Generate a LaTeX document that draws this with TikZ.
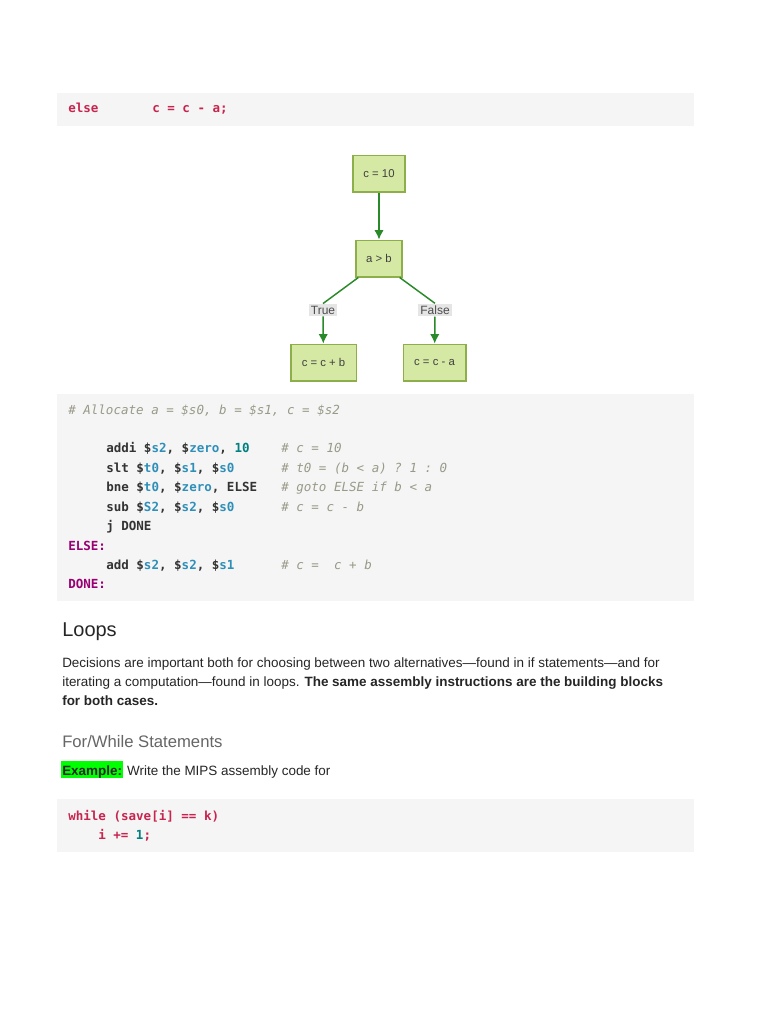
\documentclass[tikz,border=0pt]{standalone}
\usepackage{fontspec}
\setmainfont{Liberation Sans}
\setmonofont{DejaVu Sans Mono}
\usetikzlibrary{arrows.meta}
\definecolor{kw}{HTML}{C7254E}
\definecolor{cbg}{HTML}{F5F5F5}
\definecolor{cm}{HTML}{999988}
\definecolor{rg}{HTML}{2F8FB8}
\definecolor{nm}{HTML}{008080}
\definecolor{lb}{HTML}{990073}
\definecolor{bfill}{HTML}{D5E8A4}
\definecolor{bdraw}{HTML}{8CAF4A}
\definecolor{arr}{HTML}{2A8A2A}
\tikzset{
 box/.style={draw=bdraw,fill=bfill,line width=1pt,minimum height=27.5pt,inner sep=0pt,font=\fontsize{8.5}{9}\selectfont,text=black!75},
 con/.style={draw=arr,line width=1.1pt,-{Latex[length=7pt,width=7pt]}},
 lab/.style={fill=black!10,inner sep=1.5pt,font=\fontsize{9}{10}\selectfont,text=black!70},
 tx/.style={anchor=base west,inner sep=0pt,font=\fontsize{10.1}{12}\selectfont,text=black!85},
 cd/.style={anchor=base west,inner sep=0pt,font=\ttfamily\fontsize{9.4}{11}\selectfont,text=black!80},
}
\newcommand{\R}[1]{\textcolor{rg}{#1}}
\newcommand{\Cm}[1]{\textcolor{cm}{\itshape #1}}
\begin{document}
\begin{tikzpicture}[x=0.75pt,y=-0.75pt]
\useasboundingbox (0,0) rectangle (768,1024);
\fill[white] (0,0) rectangle (768,1024);
% code block 1
\fill[cbg] (57,93) rectangle (694,126);
\node[cd,text=kw] (e1) at (68,113) {\bfseries else};
\node[cd,text=kw] (e2) at (152,113) {\bfseries c = c - a;};
% flowchart
\node[box,minimum width=39pt] (n1) at (379,173.5) {c = 10};
\node[box,minimum width=34.5pt] (n2) at (379,258.5) {a > b};
\node[box,minimum width=49pt] (n3) at (323.5,362.5) {c = c + b};
\node[box,minimum width=47pt] (n4) at (434.5,362.5) {c = c - a};
\node[lab] (t) at (323,310) {True};
\node[lab] (f) at (435,310) {False};
\draw[con] (n1) -- (n2);
\draw[draw=arr,line width=1.1pt] (n2.south west)+(3,0) -- (t.north);
\draw[draw=arr,line width=1.1pt] (n2.south east)+(-3,0) -- (f.north);
\draw[con] (t) -- (n3);
\draw[con] (f) -- (n4);
% code block 2
\fill[cbg] (57,394) rectangle (694,601);
\node[cd] (c0) at (68,414) {\Cm{\# Allocate a = \$s0, b = \$s1, c = \$s2}};
\node[cd] (c1) at (106,452) {\bfseries addi \$\R{s2}, \$\R{zero}, \textcolor{nm}{10}};
\node[cd] (c2) at (106,472) {\bfseries slt \$\R{t0}, \$\R{s1}, \$\R{s0}};
\node[cd] (c3) at (106,491) {\bfseries bne \$\R{t0}, \$\R{zero}, ELSE};
\node[cd] (c4) at (106,511) {\bfseries sub \$\R{S2}, \$\R{s2}, \$\R{s0}};
\node[cd] (c5) at (106,530) {\bfseries j DONE};
\node[cd,text=lb] (c6) at (68,550) {\bfseries ELSE:};
\node[cd] (c7) at (106,569) {\bfseries add \$\R{s2}, \$\R{s2}, \$\R{s1}};
\node[cd,text=lb] (c8) at (68,588) {\bfseries DONE:};
\node[cd] (m1) at (281,452) {\Cm{\# c = 10}};
\node[cd] (m2) at (281,472) {\Cm{\# t0 = (b < a) ? 1 : 0}};
\node[cd] (m3) at (281,491) {\Cm{\# goto ELSE if b < a}};
\node[cd] (m4) at (281,511) {\Cm{\# c = c - b}};
\node[cd] (m7) at (281,569) {\Cm{\# c =\ \ c + b}};
% text
\node[tx,font=\fontsize{15}{18}\selectfont,text=black!85] (h1) at (62,636) {Loops};
\node[tx] (p1) at (62,667) {Decisions are important both for choosing between two alternatives—found in if statements—and for};
\node[tx] (p2) at (62,686) {iterating a computation—found in loops. \textbf{The same assembly instructions are the building blocks}};
\node[tx] (p3) at (62,705) {\textbf{for both cases.}};
\node[tx,font=\fontsize{12.5}{15}\selectfont,text=black!60] (h2) at (62,747) {For/While Statements};
\fill[green] (61,761) rectangle (123,778);
\node[tx] (ex) at (62,775) {\textbf{Example:} Write the MIPS assembly code for};
% code block 3
\fill[cbg] (57,799) rectangle (694,852);
\node[cd,text=kw] (w1) at (68,820) {\bfseries while (save[i] == k)};
\node[cd,text=kw] (w2) at (98,839) {\bfseries i += \textcolor{nm}{1};};
\end{tikzpicture}
\end{document}
